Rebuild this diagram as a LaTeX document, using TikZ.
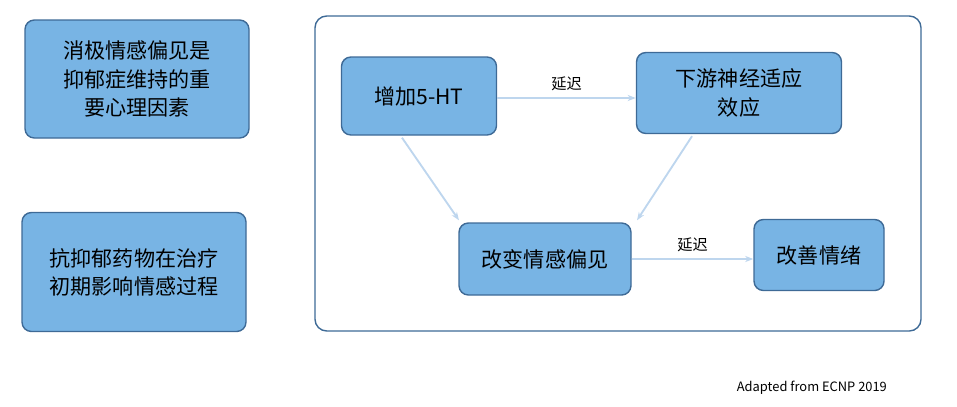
\documentclass[tikz,border=0pt]{standalone}
\usepackage{fontspec}
\setmainfont{Noto Sans CJK SC}
\usetikzlibrary{positioning, arrows.meta}
\definecolor{boxfill}{RGB}{120,180,228}
\definecolor{boxline}{RGB}{62,106,150}
\definecolor{arrowblue}{RGB}{190,214,238}

\begin{document}
\begin{tikzpicture}[x=0.03cm, y=-0.03cm,
					box/.style={draw=boxline, fill=boxfill, line width=1.2pt,
						rounded corners=8pt, align=center,
						font=\fontsize{18}{24}\selectfont},
					link/.style={draw=arrowblue, line width=1.6pt, -{Stealth[length=7pt]}},
					lbl/.style={font=\fontsize{13}{16}\selectfont}]

\useasboundingbox (0,0) rectangle (957,406);
\draw[boxline, line width=1.2pt, rounded corners=10pt] (315,16) rectangle (921,331);

\node[box, minimum width=224*0.03cm, minimum height=118*0.03cm] (bias) at (137,79) {消极情感偏见是\\抑郁症维持的重\\要心理因素};
\node[box, minimum width=224*0.03cm, minimum height=119*0.03cm] (early) at (134,272) {抗抑郁药物在治疗\\初期影响情感过程};

\node[box, minimum width=155*0.03cm, minimum height=78*0.03cm] (ht) at (419,96) {增加5-HT};
\node[box, minimum width=205*0.03cm, minimum height=81*0.03cm] (adapt) at (739,93) {下游神经适应\\效应};
\node[box, minimum width=172*0.03cm, minimum height=72*0.03cm] (change) at (545,259) {改变情感偏见};
\node[box, minimum width=130*0.03cm, minimum height=71*0.03cm] (mood) at (819,255) {改善情绪};

\draw[link] (ht.east |- 0,98) -- node[above=2pt, lbl, text=black] {延迟} (adapt.west |- 0,98);
\path (ht.south) ++(-17,2) coordinate (a1) (change.north) ++(-86,-2) coordinate (a2);
\draw[link] (a1) -- (a2);
\path (adapt.south) ++(-47,2) coordinate (b1) (change.north) ++(92,-2) coordinate (b2);
\draw[link] (b1) -- (b2);
\draw[link] (change.east) -- node[above=2pt, lbl, text=black] {延迟} (mood.west |- change.east);

\node[font=\fontsize{11}{13}\selectfont, anchor=east] (src) at (891,388) {Adapted from ECNP 2019};
\end{tikzpicture}
\end{document}
